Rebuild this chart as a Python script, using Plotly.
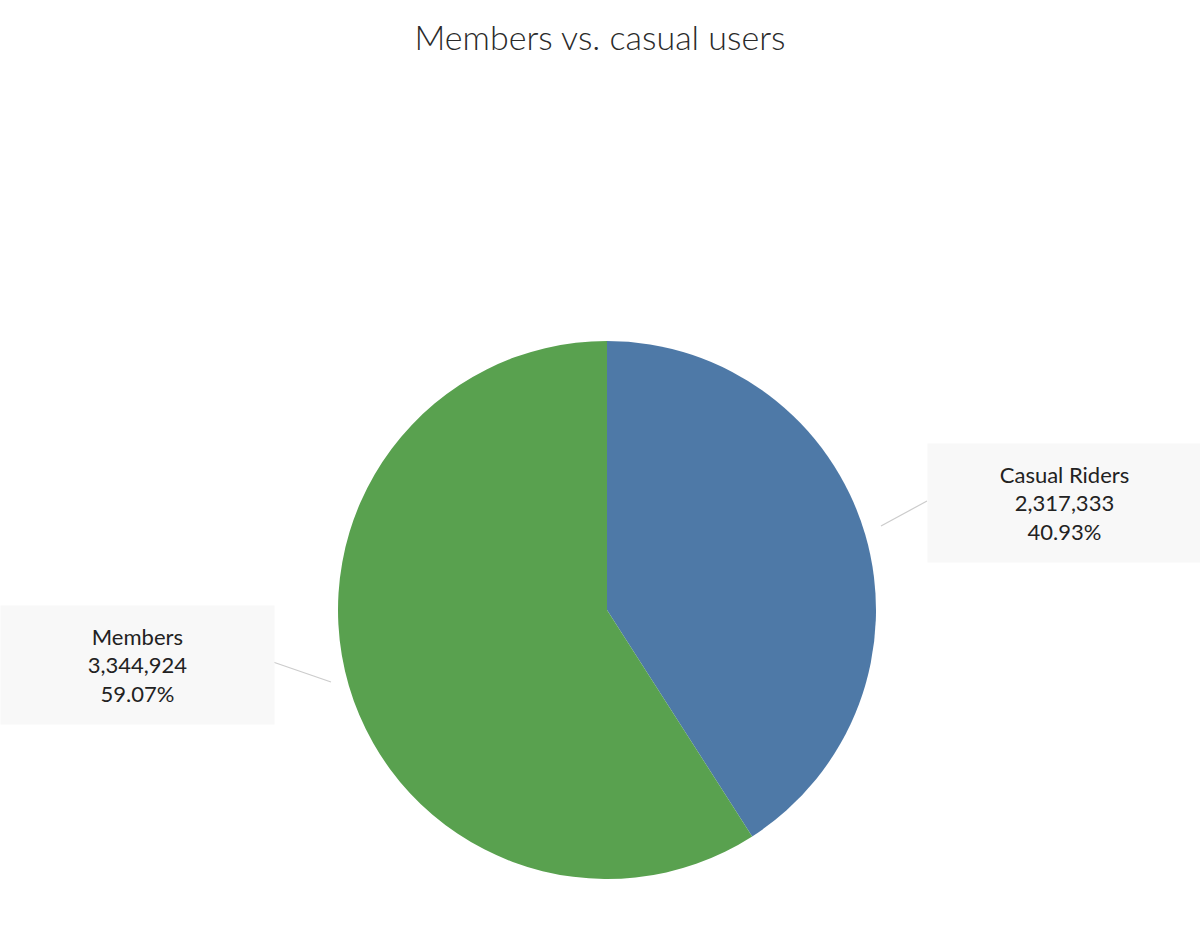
import plotly.graph_objects as go

labels = ["Casual Riders", "Members"]
values = [2317333, 3344924]
colors = ["#4e79a7", "#59a14f"]

W, H = 1200, 932
total = sum(values)

fig = go.Figure()
fig.add_trace(go.Pie(
    labels=labels, values=values, sort=False, direction="clockwise", rotation=0,
    marker=dict(colors=colors, line=dict(width=0)),
    textinfo="none", hoverinfo="label+value+percent", showlegend=False,
    domain=dict(x=[338 / W, 876 / W], y=[1 - 879 / H, 1 - 341 / H]),
))

# label boxes: (left px, top px) for each slice, and callout line px coords
boxes = [(927, 443), (0, 605)]
callouts = [((881, 526), (927, 501)), ((331, 682), (273, 662))]

for lab, val, (bx, by), ((x0, y0), (x1, y1)) in zip(labels, values, boxes, callouts):
    pct = val / total * 100
    fig.add_annotation(
        x=bx / W, y=1 - by / H, xref="paper", yref="paper",
        xanchor="left", yanchor="top", width=273, height=118,
        text=f"{lab}<br>{val:,}<br>{pct:.2f}%", showarrow=False,
        bgcolor="#f8f8f8", borderpad=0, align="center", valign="middle",
        font=dict(family="Lato", size=22, color="#222222"),
    )
    fig.add_shape(type="line", xref="paper", yref="paper",
                  x0=x0 / W, y0=1 - y0 / H, x1=x1 / W, y1=1 - y1 / H,
                  line=dict(color="#cccccc", width=1.2))

fig.update_layout(
    width=W, height=H,
    margin=dict(l=0, r=0, t=0, b=0),
    paper_bgcolor="white", plot_bgcolor="white",
    title=dict(text="Members vs. casual users", x=0.5, xanchor="center",
               y=1 - 38 / H, yanchor="middle",
               font=dict(family="Lato", size=34, color="#2a2a2a", weight=300)),
)

fig.write_html("out.html", config={"displayModeBar": False},
               post_script="document.body.style.margin='0';")
